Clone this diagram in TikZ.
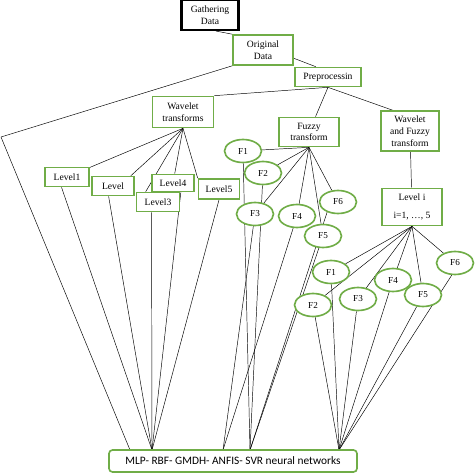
\documentclass[tikz,border=0pt]{standalone}
\usepackage{fontspec}
\setmainfont{Liberation Serif}
\newfontfamily\calib{Carlito}
\usetikzlibrary{shapes,backgrounds}
\definecolor{boxgreen}{RGB}{112,173,71}
\tikzstyle{box} = [draw=boxgreen, line width=1.4pt, fill=white, inner sep=0pt, align=center, font=\fontsize{8.2}{10}\selectfont]
\tikzstyle{fset} = [draw=boxgreen, line width=1.4pt, fill=white, ellipse, inner sep=0pt, minimum width=1.11cm, minimum height=0.69cm, font=\fontsize{7.8}{9}\selectfont]

\begin{document}
\begin{tikzpicture}[x=0.03cm,y=-0.03cm,line width=0.6pt]
\useasboundingbox (0,0) rectangle (474,474);

\node[box, draw=black, line width=1.8pt, minimum width=1.71cm, minimum height=0.9cm] (gather) at (210,15) {Gathering\\Data};
\node[box, minimum width=1.8cm, minimum height=0.9cm] (orig) at (263,50) {Original\\Data};
\node[box, minimum width=1.98cm, minimum height=0.57cm] (prep) at (328,77) {Preprocessin};
\node[box, minimum width=1.83cm, minimum height=0.93cm] (wavt) at (183,112) {Wavelet\\transforms};
\node[box, minimum width=1.8cm, minimum height=0.87cm] (fuzt) at (309,132) {Fuzzy\\transform};
\node[box, minimum width=1.74cm, minimum height=1.2cm] (wfuz) at (410,131) {Wavelet\\and Fuzzy\\transform};
\node[box, minimum width=1.8cm, minimum height=1.11cm] (leveli) at (412,207) {Level i\\[5pt]i=1, …, 5};

\node[box, minimum width=1.32cm, minimum height=0.57cm] (lev1) at (67,177) {Level1};
\node[box, minimum width=1.26cm, minimum height=0.57cm] (lev2) at (113,186) {Level};
\node[box, minimum width=1.26cm, minimum height=0.51cm] (lev4) at (173,183) {Level4};
\node[box, minimum width=1.29cm, minimum height=0.57cm] (lev3) at (158,202) {Level3};
\node[box, minimum width=1.23cm, minimum height=0.6cm] (lev5) at (219,189) {Level5};

% fuzzy transform sets
\node[fset] (f1) at (243,151) {F1};
\node[fset] (f2) at (263,173) {F2};
\node[fset] (f3) at (255,214) {F3};
\node[fset] (f4) at (297,216) {F4};
\node[fset] (f6) at (338,202) {F6};
\node[fset] (f5) at (323,236) {F5};

% sets under level i
\node[fset] (g1) at (331,272) {F1};
\node[fset] (g2) at (313,305) {F2};
\node[fset] (g3) at (358,299) {F3};
\node[fset] (g4) at (393,280) {F4};
\node[fset] (g5) at (423,295) {F5};
\node[fset] (g6) at (455,263) {F6};

\node[box, rounded corners=3pt, minimum width=7.44cm, minimum height=0.66cm, font=\calib\fontsize{9.7}{11}\selectfont] (nn) at (233,461) {MLP- RBF- GMDH- ANFIS- SVR neural networks};

\coordinate (corner) at (1,137);
\coordinate (m1) at (130,450);
\coordinate (m2) at (152,450);
\coordinate (m3) at (223,450);
\coordinate (m4) at (250,450);
\coordinate (m5) at (339,450);

\begin{pgfonlayer}{background}
\path
(gather.-70) edge (orig.north west)
(orig.-15) edge (prep.140)
(orig.south west) edge (corner)
(corner) edge (m1)
(prep.south) edge (wavt.north east)
(prep.south) edge (fuzt)
(prep.south) edge (wfuz.130)
(wfuz) edge (leveli)
(wavt.south) edge (lev1)
(wavt.south) edge (lev2.30)
(wavt.south) edge (lev3.140)
(wavt.south) edge (lev4)
(wavt.south) edge (lev5.north west)
(lev1.-118) edge (m2)
(lev2.-113) edge (m2)
(lev3.-122) edge (m2)
(lev4.-50) edge (m2)
(lev5.south) edge (m2)
(fuzt.south) edge (f1)
(fuzt.south) edge (f2)
(fuzt.south) edge (f3)
(fuzt.south) edge (f4)
(fuzt.south) edge (f5)
(fuzt.south) edge (f6)
(f1) edge (m4)
(f2) edge (m4)
(f3) edge (m3)
(f4) edge (m3)
(f5) edge (m4)
(f6.-137) edge (m4)
(leveli.south) edge (g1)
(leveli.south) edge (g2)
(leveli.south) edge (g3)
(leveli.south) edge (g4)
(leveli.south) edge (g5)
(leveli.south) edge (g6)
(g1) edge (m5)
(g2) edge (m5)
(g3) edge (m5)
(g4) edge (m5)
(g5) edge (m5)
(g6.-105) edge (m5);
\end{pgfonlayer}

\end{tikzpicture}
\end{document}
